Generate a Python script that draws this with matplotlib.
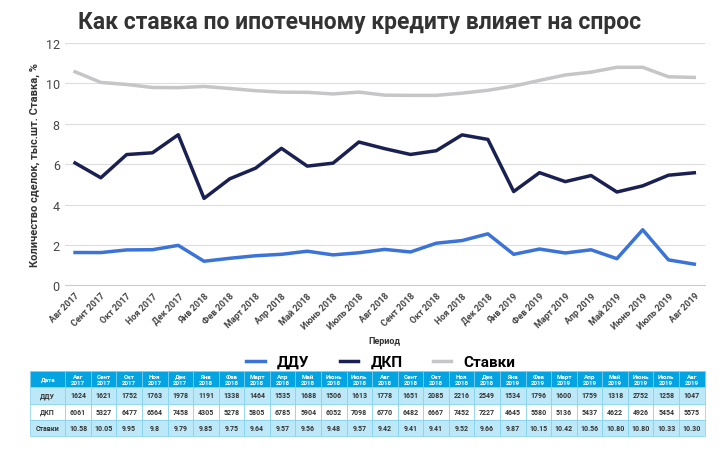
import matplotlib
matplotlib.use("Agg")
import matplotlib.pyplot as plt

months = ["Авг\n2017","Сент\n2017","Окт\n2017","Ноя\n2017","Дек\n2017","Янв\n2018","Фев\n2018","Март\n2018","Апр\n2018","Май\n2018","Июнь\n2018","Июль\n2018","Авг\n2018","Сент\n2018","Окт\n2018","Ноя\n2018","Дек\n2018","Янв\n2019","Фев\n2019","Март\n2019","Апр\n2019","Май\n2019","Июнь\n2019","Июль\n2019","Авг\n2019"]
ddu = [1624,1621,1752,1763,1978,1191,1338,1464,1535,1688,1506,1613,1778,1651,2085,2216,2549,1534,1796,1600,1759,1318,2752,1258,1047]
dkp = [6061,5327,6477,6564,7458,4305,5278,5805,6785,5904,6052,7098,6770,6482,6667,7452,7227,4645,5580,5136,5437,4622,4926,5454,5575]
rates = [10.58,10.05,9.95,9.8,9.79,9.85,9.75,9.64,9.57,9.56,9.48,9.57,9.42,9.41,9.41,9.52,9.66,9.87,10.15,10.42,10.56,10.80,10.80,10.33,10.30]
rate_labels = ["10.58","10.05","9.95","9.8","9.79","9.85","9.75","9.64","9.57","9.56","9.48","9.57","9.42","9.41","9.41","9.52","9.66","9.87","10.15","10.42","10.56","10.80","10.80","10.33","10.30"]
yticks = [0,2,4,6,8,10,12]

plt.rcParams["font.family"] = "Roboto"
C_DDU, C_DKP, C_R = "#3b73d9", "#1a2152", "#c6c6c8"

fig = plt.figure(figsize=(7.19,4.64), dpi=100)
fig.text(0.5,0.952,"Как ставка по ипотечному кредиту влияет на спрос",ha="center",va="center",fontsize=16.5,fontweight="bold",color="#333333")
ax = fig.add_axes([0.09,0.383,0.89,0.522])
x = list(range(len(months)))
ax.plot(x,[v/1000 for v in ddu],color=C_DDU,lw=2.5,label="ДДУ")
ax.plot(x,[v/1000 for v in dkp],color=C_DKP,lw=2.5,label="ДКП")
ax.plot(x,rates,color=C_R,lw=2.5,label="Ставки")
ax.set_ylim(0,12); ax.set_yticks(yticks)
ax.set_xlim(-0.4,len(months)-0.6)
ax.set_xticks(x)
ax.set_xticklabels([m.replace("\n"," ") for m in months],rotation=45,ha="right",rotation_mode="anchor",fontsize=6.5,fontweight="bold",color="#444444")
ax.tick_params(axis="y",labelsize=9,colors="#444444",length=0)
ax.tick_params(axis="x",length=0,pad=4)
ax.grid(axis="y",color="#dddddd",lw=0.8)
for s in ["top","right","left"]:
    ax.spines[s].set_visible(False)
ax.spines["bottom"].set_color("#cccccc")
ax.set_ylabel("Количество сделок, тыс.шт. Ставка, %",fontsize=8,fontweight="bold",color="#333333")
ax.set_xlabel("Период",fontsize=6.5,fontweight="bold",color="#333333",labelpad=4)
fig.legend(loc="center",bbox_to_anchor=(0.53,0.218),ncol=3,frameon=False,handlelength=1.2,prop={"weight":"bold","size":11})

tax = fig.add_axes([0.042,0.058,0.938,0.14]); tax.axis("off")
cells = [["Дата"]+months,
         ["ДДУ"]+[str(v) for v in ddu],
         ["ДКП"]+[str(v) for v in dkp],
         ["Ставки"]+rate_labels]
ncol = len(cells[0])
w0 = 0.052; w = (1-w0)/(ncol-1)
tbl = tax.table(cellText=cells,colWidths=[w0]+[w]*(ncol-1),bbox=[0,0,1,1],cellLoc="center")
tbl.auto_set_font_size(False)
for (r,c),cell in tbl.get_celld().items():
    cell.set_edgecolor("#7fd0ef"); cell.set_linewidth(0.5)
    t = cell.get_text(); t.set_fontsize(4.5 if r==0 else 5); t.set_fontweight("bold")
    if r==0:
        cell.set_facecolor("#04a3e2"); t.set_color("white")
    elif r==2:
        cell.set_facecolor("white"); t.set_color("#333333")
    else:
        cell.set_facecolor("#bde8f8"); t.set_color("#333333")
fig.savefig("out.png",dpi=100)
